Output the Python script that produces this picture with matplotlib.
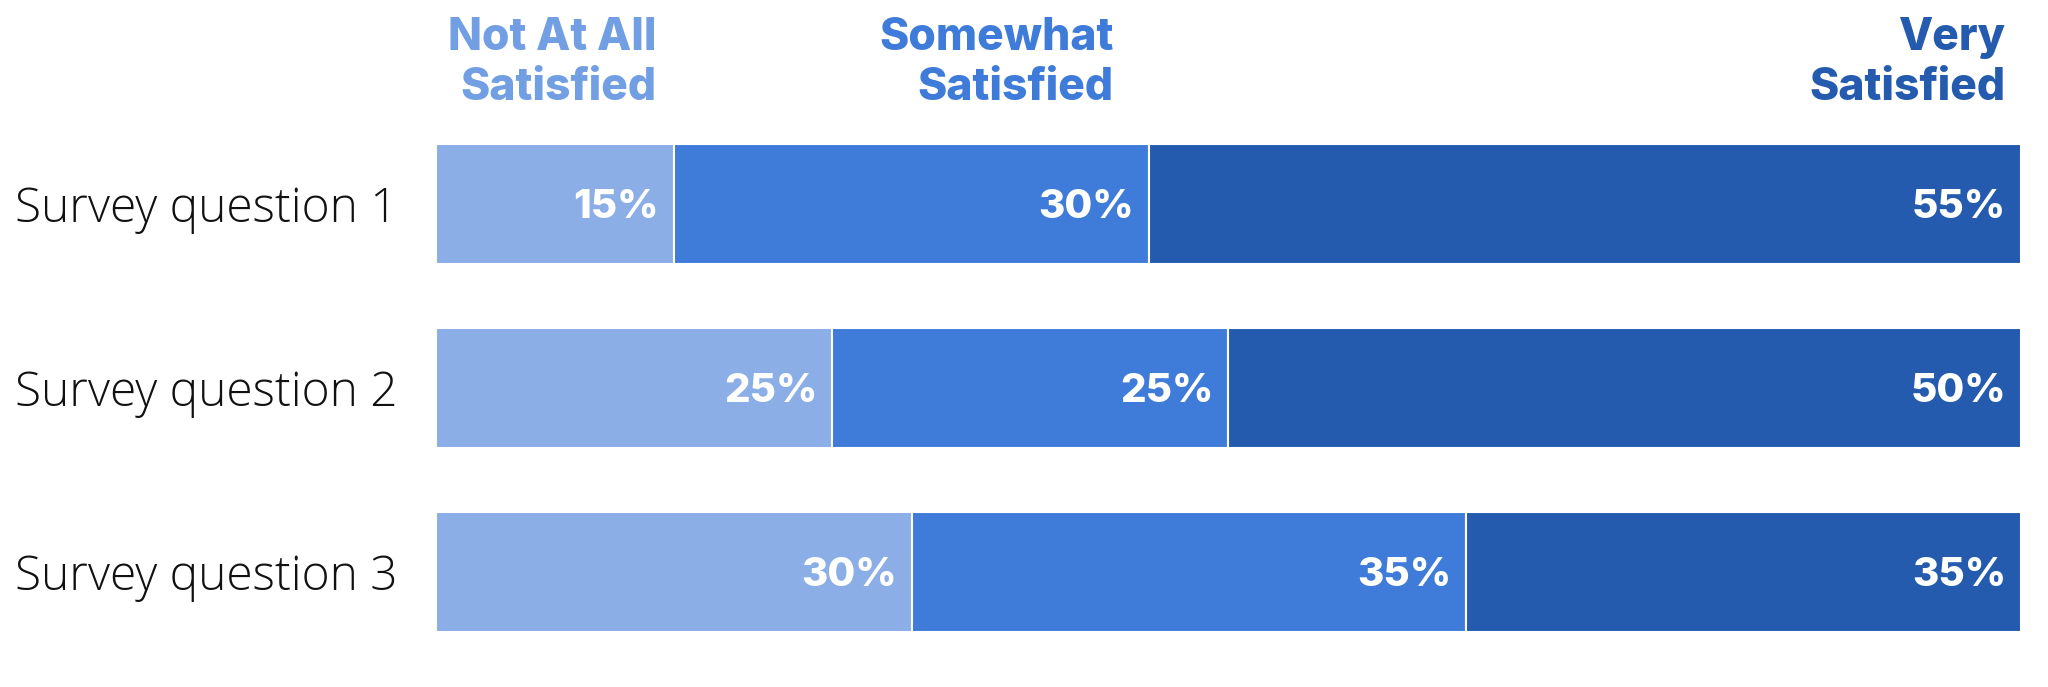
import numpy as np
import matplotlib.pyplot as plt
from matplotlib import transforms

# Datos
questions = ['Survey question 1', 'Survey question 2', 'Survey question 3']
levels = ['Not At All\nSatisfied', 'Somewhat\nSatisfied', 'Very\nSatisfied']
not_at_all = [15, 25, 30]
somewhat = [30, 25, 35]
very = [55, 50, 35]

bar_colors = ['#8CAEE6', '#3F7BD8', '#245BAF']
head_colors = ['#729FE3', '#3F7BD8', '#245BAF']
head_pad = [1.07, 2.27, 0.95]

fig = plt.figure(figsize=(20.48, 6.87), dpi=100)
ax = fig.add_axes([0.2129, 0.0801, 0.7739, 0.7103])

y = np.arange(len(questions))
h = 0.652
series = [not_at_all, somewhat, very]
left = np.zeros(len(questions))
for vals, col in zip(series, bar_colors):
    vals = np.array(vals)
    ax.barh(y, vals, left=left, height=h, color=col, edgecolor='white', linewidth=1.5)
    for yi, l, v in zip(y, left, vals):
        ax.text(l + v - 0.95, yi, f'{v}%', ha='right', va='center_baseline',
                color='white', fontsize=29, fontweight='heavy', family='Inter')
    left = left + vals

# Encabezados sobre el final de cada segmento de la primera barra
trans = transforms.blended_transform_factory(ax.transData, fig.transFigure)
ends = np.cumsum([s[0] for s in series])
for e, p, lab, col in zip(ends, head_pad, levels, head_colors):
    ax.text(e - p, 1 - 100 / 687, lab, transform=trans, ha='right', va='baseline',
            color=col, fontsize=32, fontweight='heavy', family='Inter',
            linespacing=1.25)

ax.set_xlim(0, 100)
ax.set_ylim(len(questions) - 1 + h / 2, -h / 2)
ax.set_yticks(y)
ax.set_yticklabels(questions, fontsize=34.5, family='Open Sans', fontweight=300,
                   color='#111111')
ax.tick_params(axis='y', length=0, pad=28)
ax.set_xticks([])
for s in ax.spines.values():
    s.set_visible(False)

plt.savefig('out.png', dpi=100)
